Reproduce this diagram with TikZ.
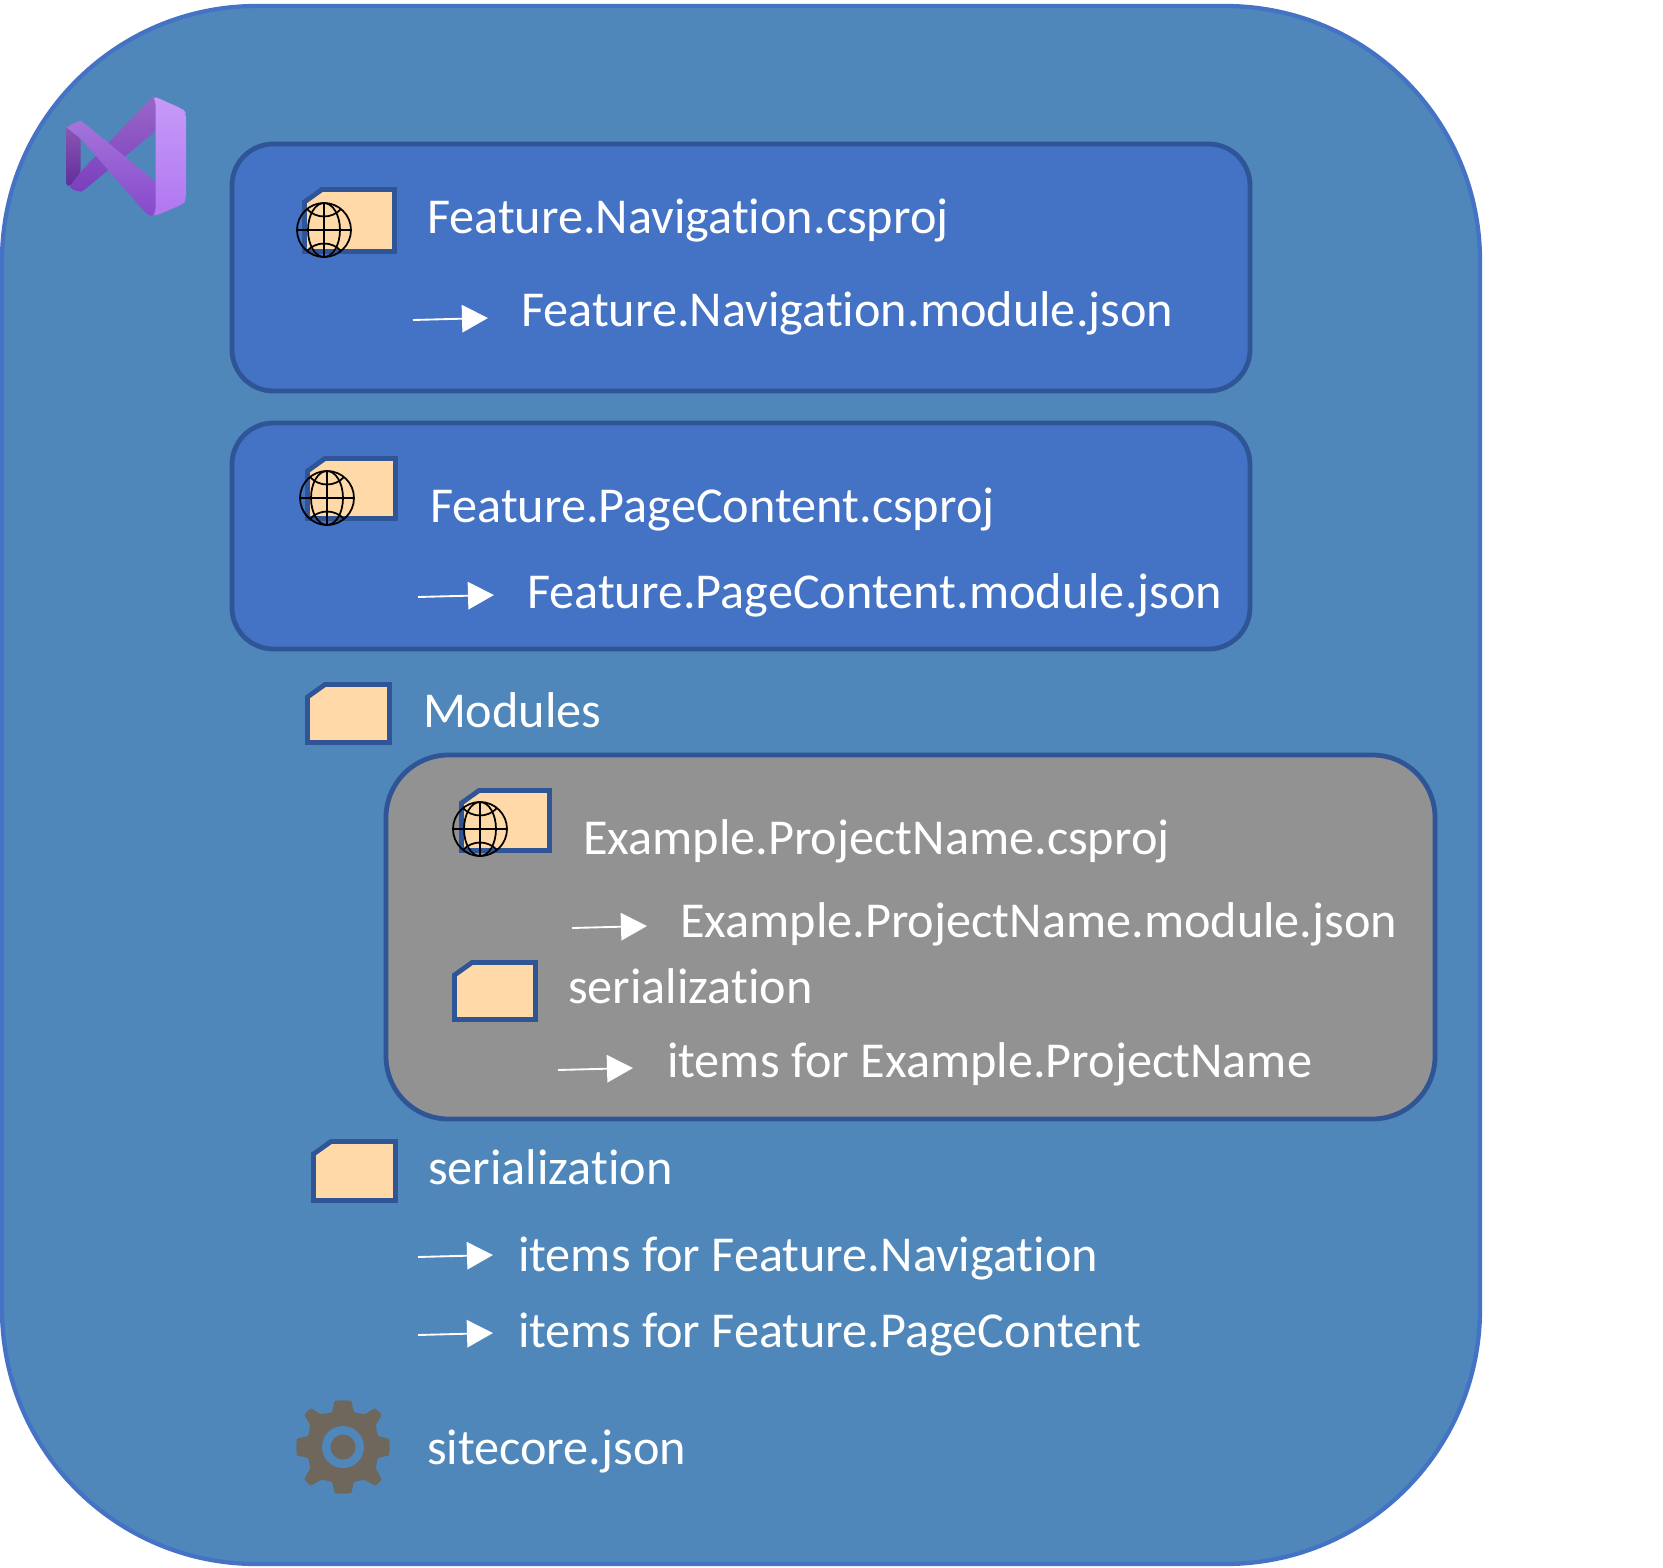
\documentclass[tikz,border=0pt]{standalone}
\usepackage{fontspec}
\setmainfont[Ligatures=NoCommon]{Carlito}
\usetikzlibrary{arrows.meta}
\definecolor{bigfill}{HTML}{4F87BA}
\definecolor{bigedge}{HTML}{4472C4}
\definecolor{boxfill}{HTML}{4472C4}
\definecolor{boxedge}{HTML}{2F5597}
\definecolor{grayfill}{HTML}{929292}
\definecolor{folderfill}{HTML}{FFD9A8}
\definecolor{gearcol}{HTML}{6F665C}
\definecolor{la}{HTML}{9A66C8}\definecolor{lb}{HTML}{7A3FBE}
\definecolor{lc}{HTML}{8A55B4}\definecolor{ld}{HTML}{5F2E9A}
\definecolor{le}{HTML}{A474DA}\definecolor{lf}{HTML}{8649CB}
\definecolor{lg}{HTML}{C79BF8}\definecolor{lh}{HTML}{B076F0}
\tikzset{
  x=0.75pt,y=-0.75pt,
  outerbox/.style={fill=bigfill,draw=bigedge,line width=3.2pt,rounded corners=191pt},
  projbox/.style={fill=boxfill,draw=boxedge,line width=3.6pt,rounded corners=31pt},
  graybox/.style={fill=grayfill,draw=boxedge,line width=3.6pt,rounded corners=47pt},
  lbl/.style={anchor=base west,inner sep=0pt,outer sep=0pt,text=white,yshift=-0.6pt,font=\fontsize{37.7}{44}\selectfont},
  arr/.style={draw=white,fill=white,line width=1.4pt,-{Triangle[length=19.5pt,width=20.5pt]}},
  pics/folder/.style 2 args={code={
    \draw[fill=folderfill,draw=boxedge,line width=3.6pt,line join=miter]
      (2.5,15) -- (20,2.5) -- (#1-2.5,2.5) -- (#1-2.5,#2-2.5) -- (2.5,#2-2.5) -- cycle;
  }},
  pics/globe/.style={code={
    \begin{scope}[draw=black,line width=1.3pt]
      \draw (0,0) circle[radius=27];
      \draw (0,0) ellipse[x radius=16,y radius=27];
      \draw (-27,0) -- (27,0);
      \draw (0,-27) -- (0,27);
      \draw (-17,-21) .. controls (-8,-11) and (8,-11) .. (17,-21);
      \draw (-17,21) .. controls (-8,11) and (8,11) .. (17,21);
    \end{scope}
  }},
}
\begin{document}
\begin{tikzpicture}
\useasboundingbox (0,0) rectangle (1663,1567);
\fill[white] (0,0) rectangle (1663,1567);

% outer
\draw[outerbox] (2,6) rectangle (1480,1564);

% logo
\begin{scope}[shift={(40,70)},x=0.25pt,y=-0.25pt]
  \shade[top color=la,bottom color=lb,rounded corners=3pt]
    (340,78) -- (348,90) -- (347,183) -- (130,362) -- (118,367) -- (85,352) -- (122,305) -- cycle;
  \shade[top color=lc,bottom color=ld,rounded corners=1.5pt]
    (78,172) -- (122,205) -- (122,305) -- (88,350) -- (78,345) -- cycle;
  \shade[top color=le,bottom color=lf,rounded corners=2pt]
    (78,172) -- (118,152) -- (126,154) -- (347,335) -- (348,425) -- (335,440) -- (318,430) -- (122,205) -- cycle;
  \shade[top color=lg,bottom color=lh,rounded corners=4pt]
    (338,77) -- (430,118) -- (438,130) -- (438,388) -- (430,402) -- (338,441) -- (347,425) -- (347,92) -- cycle;
\end{scope}

% boxes
\draw[projbox] (232,144) rectangle (1250,391);
\draw[projbox] (232,423) rectangle (1250,649);
\draw[graybox] (386,755) rectangle (1435,1119);

% folders
\pic (f1) at (302,187) {folder={95}{67}};
\pic (f2) at (305,456) {folder={93}{65}};
\pic (f3) at (305,682) {folder={87}{63}};
\pic (f4) at (459,788) {folder={93}{65}};
\pic (f5) at (452,960) {folder={86}{62}};
\pic (f6) at (311,1139) {folder={87}{64}};

% globes
\pic (g1) at (324,230) {globe};
\pic (g2) at (327,498) {globe};
\pic (g3) at (480,829) {globe};

% gear
\begin{scope}[shift={(343,1447)}]
  \fill[gearcol,even odd rule]
    plot[smooth cycle,tension=0.25] coordinates {
      (-8,-46) (8,-46) (11,-35) (22,-33) (32,-38.5) (38.5,-32) (33,-22) (35,-11)
      (46,-8) (46,8) (35,11) (33,22) (38.5,32) (32,38.5) (22,33) (11,35)
      (8,46) (-8,46) (-11,35) (-22,33) (-32,38.5) (-38.5,32) (-33,22) (-35,11)
      (-46,8) (-46,-8) (-35,-11) (-33,-22) (-38.5,-32) (-32,-38.5) (-22,-33) (-11,-35)};
  \fill[bigfill] (0,0) circle[radius=21];
  \fill[gearcol] (0,0) circle[radius=12.5];
\end{scope}

% arrows
\coordinate (a1s) at (413,320); \coordinate (a1e) at (488,318);
\coordinate (a2s) at (418,597); \coordinate (a2e) at (494,595);
\coordinate (a3s) at (572,928); \coordinate (a3e) at (647,926);
\coordinate (a4s) at (558,1070); \coordinate (a4e) at (633,1068);
\coordinate (a5s) at (418,1257); \coordinate (a5e) at (493,1255);
\coordinate (a6s) at (418,1335); \coordinate (a6e) at (493,1333);
\draw[arr] (a1s) -- (a1e);
\draw[arr] (a2s) -- (a2e);
\draw[arr] (a3s) -- (a3e);
\draw[arr] (a4s) -- (a4e);
\draw[arr] (a5s) -- (a5e);
\draw[arr] (a6s) -- (a6e);

% labels
\node[lbl] (t1) at (427,233) {Feature.Navigation.csproj};
\node[lbl] (t2) at (521,326) {Feature.Navigation.module.json};
\node[lbl] (t3) at (430,522) {Feature.PageContent.csproj};
\node[lbl] (t4) at (527,608) {Feature.PageContent.module.json};
\node[lbl] (t5) at (423,727) {Modules};
\node[lbl] (t6) at (583,854) {Example.ProjectName.csproj};
\node[lbl] (t7) at (680,937) {Example.ProjectName.module.json};
\node[lbl] (t8) at (568,1003) {serialization};
\node[lbl] (t9) at (667,1077) {items for Example.ProjectName};
\node[lbl] (t10) at (428,1184) {serialization};
\node[lbl] (t11) at (518,1271) {items for Feature.Navigation};
\node[lbl] (t12) at (518,1347) {items for Feature.PageContent};
\node[lbl] (t13) at (427,1464) {sitecore.json};
\end{tikzpicture}
\end{document}
